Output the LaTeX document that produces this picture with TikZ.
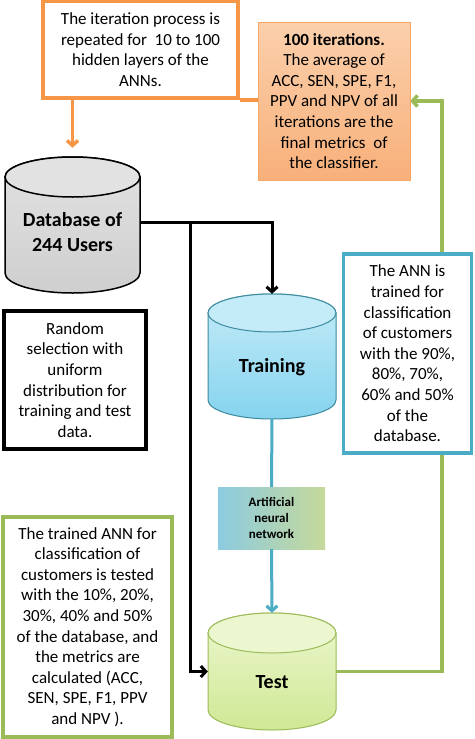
\documentclass[tikz,border=0pt]{standalone}
\usepackage{fontspec}
\setmainfont{Carlito}
\usetikzlibrary{arrows.meta}
\definecolor{offorange}{HTML}{F79646}
\definecolor{offgreen}{HTML}{9BBB59}
\definecolor{offteal}{HTML}{4BACC6}
\definecolor{peachtop}{HTML}{FBD0AC}
\definecolor{peachbot}{HTML}{F8B07A}
\definecolor{tealtop}{HTML}{C4ECF8}
\definecolor{tealbot}{HTML}{86D3EE}
\definecolor{lgtop}{HTML}{EDF7CF}
\definecolor{lgbot}{HTML}{D0E895}
\definecolor{graytop}{HTML}{E2E2E2}
\definecolor{graybot}{HTML}{CFCFCF}
\definecolor{annleft}{HTML}{8CCBE0}
\definecolor{annright}{HTML}{C6D99A}
\newcommand{\drawcyl}[7]{%
  \path[#6] (#1-#4,#2) -- (#1-#4,#3) arc[start angle=180,end angle=360,x radius=#4,y radius=#5]
    -- (#1+#4,#2) arc[start angle=0,end angle=180,x radius=#4,y radius=#5] -- cycle;
  \path[#7] (#1,#2) ellipse[x radius=#4,y radius=#5];
}
\tikzset{
  txt/.style={font=\fontsize{17}{20.6}\selectfont, align=center, inner sep=0pt},
  boxstyle/.style={txt, fill=white, line width=3.5pt},
  bigtxt/.style={font=\fontsize{20}{24.5}\selectfont\bfseries, align=center, inner sep=0pt},
  area/.style={inner sep=0pt},
  tip/.style={-{Straight Barb[length=5pt,width=11pt]}},
  blk/.style={line width=3pt, black},
  org/.style={line width=3.5pt, offorange},
  grn/.style={line width=3.5pt, offgreen},
  tl/.style={line width=3pt, offteal},
}
\begin{document}
\begin{tikzpicture}[x=1pt,y=1pt]
\useasboundingbox (0,0) rectangle (474,-739);
\fill[white] (0,0) rectangle (474,-739);

% cylinders (drawn shapes)
\drawcyl{72.5}{-177}{-273}{67.5}{20}{draw=black,line width=1.5pt,top color=graytop,bottom color=graybot}{draw=black,line width=1.5pt,fill=graytop}
\drawcyl{272}{-313}{-400}{64}{19}{draw=offteal!80!black,line width=1pt,top color=tealtop,bottom color=tealbot}{draw=offteal!80!black,line width=1pt,fill=tealtop}
\drawcyl{272}{-633}{-710}{64}{20}{draw=offgreen,line width=1pt,top color=lgtop,bottom color=lgbot}{draw=offgreen,line width=1pt,fill=lgtop}

% areas of the cylinders
\node[area, minimum width=135pt, minimum height=136pt] (db) at (72.5,-225) {};
\node[area, minimum width=128pt, minimum height=125pt] (train) at (272,-356.5) {};
\node[area, minimum width=128pt, minimum height=117pt] (test) at (272,-671.5) {};
\node[bigtxt] (dbtxt) at (72.5,-232) {Database of\\244 Users};
\node[bigtxt] (traintxt) at (272,-367) {Training};
\node[bigtxt] (testtxt) at (272,-682) {Test};

% green feedback line (behind the teal box)
\coordinate (split) at (190,-222);
\node[area, minimum width=152pt, minimum height=158pt] (avgarea) at (334,-101) {};
\draw[grn,tip] (test.east) -- ++(106,0) |- (avgarea.east);

% boxes
\node[boxstyle, draw=offorange, line width=4pt, minimum width=195pt, minimum height=97pt] (iter) at (140.5,-49.5)
  {The iteration process is\\repeated for\ \ 10 to 100\\hidden layers of the\\ANNs.};
\node[txt, draw=offorange!85!white, line width=1pt, top color=peachtop, bottom color=peachbot,
  minimum width=152pt, minimum height=158pt] (avg) at (334,-101)
  {\textbf{100 iterations.}\\The average of\\ACC, SEN, SPE, F1,\\PPV and NPV of all\\iterations are the\\final metrics\ \ of\\the classifier.};
\node[boxstyle, draw=black, minimum width=142pt, minimum height=138pt] (rnd) at (75,-380)
  {Random\\selection with\\uniform\\distribution for\\training and test\\data.};
\node[boxstyle, draw=offteal, minimum width=128pt, minimum height=199pt] (annbox) at (407.5,-353.5)
  {The ANN is\\trained for\\classification\\of customers\\with the 90\%,\\80\%, 70\%,\\60\% and 50\%\\of the\\database.};
\node[boxstyle, draw=offgreen, minimum width=169pt, minimum height=220pt] (tested) at (87.5,-627)
  {The trained ANN for\\classification of\\customers is tested\\with the 10\%, 20\%,\\30\%, 40\% and 50\%\\of the database, and\\the metrics are\\calculated (ACC,\\SEN, SPE, F1, PPV\\and NPV ).};
\node[font=\fontsize{13}{16}\selectfont\bfseries, align=center, inner sep=0pt,
  left color=annleft, right color=annright, minimum width=107pt, minimum height=62pt] (ann) at (271.5,-518)
  {Artificial\\neural\\network};

% connectors
\draw[org] (iter.south east) -- (iter.south east -| avg.west);
\draw[org,tip,shorten >=9pt] (iter.south -| db.north) -- (db.north);
\draw[blk,tip] ([yshift=3pt]db.east) -| (train.north);
\draw[blk,tip] (split) |- (test.west);
\draw[tl] (train.south) -- (ann.north);
\draw[tl,tip] (ann.south) -- (test.north);
\end{tikzpicture}
\end{document}
